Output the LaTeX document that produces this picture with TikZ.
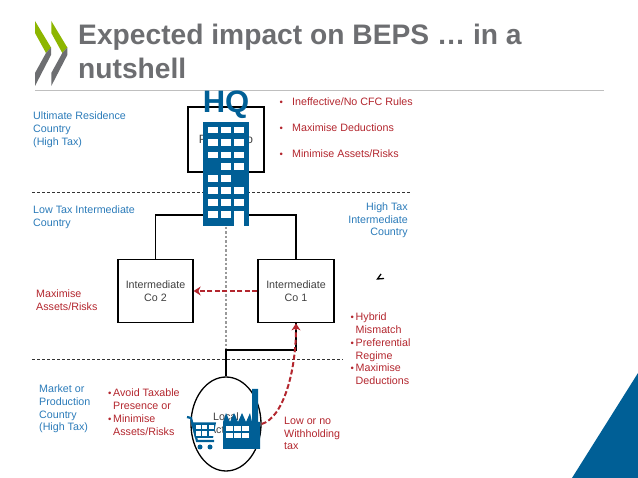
\documentclass[tikz,border=0pt]{standalone}
\usepackage{fontspec}
\setmainfont{Liberation Sans}
\usetikzlibrary{positioning,arrows.meta,shapes.geometric}
\definecolor{oecdblue}{HTML}{005F96}
\definecolor{labelblue}{HTML}{2B7BB9}
\definecolor{labelred}{HTML}{B3262E}
\definecolor{titlegrey}{HTML}{6D6E71}
\definecolor{oecdgreen}{HTML}{8DB600}
\tikzset{
    bluelabel/.style={inner sep=0pt, text=labelblue, font=\fontsize{10.7}{12.8}\selectfont},
    redlabel/.style={inner sep=0pt, text=labelred, font=\fontsize{10.7}{12.8}\selectfont, align=left},
    cobox/.style={draw=black, line width=1.3pt, text=black!75, font=\fontsize{10.7}{12.8}\selectfont, align=center},
    ownline/.style={draw=black, line width=1.3pt},
    border/.style={dash pattern=on 3pt off 2pt, line width=0.7pt, black!80},
    redflow/.style={labelred, line width=2pt, dash pattern=on 5pt off 2.5pt, -{Stealth[length=7pt,width=9pt]}},
    icon/.style={fill=oecdblue, draw=none},
    pane/.style={fill=white, draw=none}
}
\newcommand{\dotmark}{{\fontsize{9.5}{9.5}\selectfont\textbullet}}
\newcommand{\bul}{\makebox[5pt][l]{\dotmark}}
\newcommand{\wideul}{\makebox[13pt][l]{\hspace{0.5pt}\dotmark}}
\begin{document}
\begin{tikzpicture}[x=1pt, y=-1pt]
    \useasboundingbox (0,0) rectangle (638,478);

    % Corner triangle
    \fill[oecdblue] (638,373) -- (572,478) -- (638,478) -- cycle;

    % Logo
    \foreach \dx in {0,16.3} {
        \fill[oecdgreen, shift={(\dx,0)}] (35,21) -- (51,47.5) -- (46,53) -- (35,33) -- cycle;
        \fill[titlegrey, shift={(\dx,0)}] (51,47.5) -- (51,55) -- (35,86) -- (35,73) -- (46,53) -- cycle;
    }

    % Title
    \node[anchor=north west, inner sep=0pt, text=titlegrey, align=left, font=\fontsize{28.2}{33.5}\bfseries\selectfont] (title) at (78,24) {Expected impact on BEPS … in a\\nutshell};
    \coordinate (ruleleft) at (35,90.5);
    \coordinate (ruleright) at (604,90.5);
    \draw[black!25, line width=0.8pt] (ruleleft) -- (ruleright);

    % Country borders
    \coordinate (topleft) at (32,192);
    \coordinate (topright) at (410,192);
    \coordinate (lowleft) at (32,359.5);
    \coordinate (lowright) at (343,359.5);
    \draw[border] (topleft) -- (topright);
    \draw[border] (lowleft) -- (lowright);

    % Companies
    \node[cobox, font=\fontsize{12}{14}\selectfont, minimum width=76pt, minimum height=65pt] (parent) at (226,139.5) {Parent Co};
    \node[cobox, minimum width=75pt, minimum height=63.5pt] (intertwo) at (155.5,291) {Intermediate\\Co 2};
    \node[cobox, minimum width=76pt, minimum height=63.5pt] (interone) at (296,291) {Intermediate\\Co 1};
    \node[cobox, ellipse, minimum width=70pt, minimum height=94pt, inner sep=0pt] (local) at (226,424) {Local\\Activity};

    % Ownership lines
    \coordinate (split) at (226,215);
    \coordinate (join) at (226,350);
    \draw[black!40, line width=1.2pt, dash pattern=on 2.5pt off 2pt] (parent.south) -- (join);
    \draw[ownline] (parent.south) -- (split);
    \draw[ownline] (intertwo.north) |- (split) -| (interone.north);
    \draw[ownline] (local.north) -- (join) -| (interone.south);

    % Red flows
    \draw[redflow] (interone.west) -- (intertwo.east);
    \draw[redflow] (local.east) .. controls (283,418) and (296,372) .. (interone.south);

    % HQ building
    \node[inner sep=0pt, text=oecdblue, font=\fontsize{31}{31}\bfseries\selectfont] (hq) at (226,105) {HQ};
    \fill[icon] (203,122) rectangle (249,226);
    \foreach \row/\cols in {127/{208,221,234}, 139.5/{208,221,234}, 152/{208,221,234}, 163.5/{221,234}, 175.5/{208,221}, 187.5/{208,221,234}, 199.5/{208,221,234}, 211.5/{208,221}} {
        \foreach \col in \cols {
            \fill[pane] (\col,\row) rectangle +(10,6.5);
        }
    }
    \fill[pane] (234,211.5) rectangle (244,226);

    % Cart
    \draw[oecdblue, line width=2.2pt] (187,417) -- (191,418) -- (197,441) -- (214,441);
    \fill[icon] (191,422.5) -- (216,422.5) -- (213,438) -- (195,438) -- cycle;
    \foreach \col in {195.5,202,208.5} {
        \foreach \row in {425,431.5} {
            \fill[pane] (\col,\row) rectangle +(5,4.5);
        }
    }
    \fill[icon] (200,447) circle (2.5);
    \fill[icon] (210,447) circle (2.5);

    % Factory
    \fill[icon] (223,449) -- (223,422) -- (226,413) -- (230,422) -- (234,413) -- (238,422) -- (242,413) -- (246,422) -- (250,413) -- (252,422) -- (252,389) -- (258,389) -- (258,422) -- (260,422) -- (260,449) -- cycle;
    \foreach \col in {226,234,242} {
        \foreach \row in {426,433} {
            \fill[pane] (\col,\row) rectangle +(6.5,5.5);
        }
    }

    % Stray mark
    \draw[black, line width=1.3pt] (381,274) -- (377.5,279) -- (384,278.5);

    % Blue labels
    \node[bluelabel, anchor=north west, align=left] (ultimate) at (33,112) {Ultimate Residence\\Country\\(High Tax)};
    \node[bluelabel, anchor=north west, align=left] (lowtax) at (33,205.3) {Low Tax Intermediate\\Country};
    \node[bluelabel, anchor=north east, align=right] (hightax) at (408,202.3) {High Tax\\Intermediate\\Country};
    \node[bluelabel, anchor=north west, align=left] (market) at (39,384.5) {Market or\\Production\\Country\\(High Tax)};

    % Red labels
    \node[redlabel, anchor=north west] (rules) at (279,97.8) {\wideul Ineffective/No CFC Rules\\[12.9pt]\wideul Maximise Deductions\\[12.9pt]\wideul Minimise Assets/Risks};
    \node[redlabel, anchor=north west] (assets) at (36,289.8) {Maximise\\Assets/Risks};
    \node[redlabel, anchor=north west] (avoid) at (108,388.8) {\bul Avoid Taxable\\\hspace*{5pt}Presence or\\\bul Minimise\\\hspace*{5pt}Assets/Risks};
    \node[redlabel, anchor=north west] (hybrid) at (350.5,312.8) {\bul Hybrid\\\hspace*{5pt}Mismatch\\\bul Preferential\\\hspace*{5pt}Regime\\\bul Maximise\\\hspace*{5pt}Deductions};
    \node[redlabel, anchor=north west] (withhold) at (284,416.8) {Low or no\\Withholding\\tax};
\end{tikzpicture}
\end{document}
